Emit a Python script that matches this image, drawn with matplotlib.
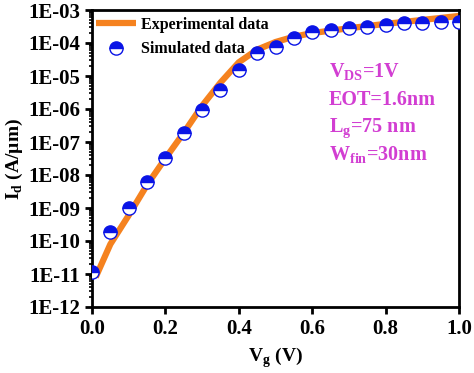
import numpy as np
import matplotlib.pyplot as plt
from matplotlib.ticker import LogLocator, NullFormatter, FixedLocator

plt.rcParams['font.family'] = ['Liberation Serif', 'DejaVu Serif']
plt.rcParams['font.weight'] = 'bold'
plt.rcParams['mathtext.fontset'] = 'custom'
plt.rcParams['mathtext.rm'] = 'Liberation Serif:bold'
plt.rcParams['mathtext.bf'] = 'Liberation Serif:bold'

# experimental curve
vg_exp = [0.01, 0.05, 0.10, 0.15, 0.20, 0.25, 0.30, 0.35, 0.40, 0.45, 0.50,
          0.55, 0.60, 0.70, 0.80, 0.90, 1.00]
id_exp = [8e-12, 8e-11, 6e-10, 5e-09, 3.2e-08, 1.9e-07, 1.25e-06, 6.3e-06,
          2.6e-05, 6.3e-05, 1.07e-04, 1.55e-04, 2.0e-04, 2.8e-04, 3.8e-04,
          5.0e-04, 6.6e-04]

# simulated points
vg_sim = [0.00, 0.05, 0.10, 0.15, 0.20, 0.25, 0.30, 0.35, 0.40, 0.45, 0.50,
          0.55, 0.60, 0.65, 0.70, 0.75, 0.80, 0.85, 0.90, 0.95, 1.00]
id_sim = [1.15e-11, 1.9e-10, 1.0e-09, 6e-09, 3.3e-08, 1.9e-07, 9.3e-07,
          3.8e-06, 1.5e-05, 5e-05, 7.6e-05, 1.4e-04, 2.2e-04, 2.5e-04,
          2.8e-04, 3.1e-04, 3.5e-04, 4.0e-04, 4.1e-04, 4.3e-04, 4.4e-04]

fig = plt.figure(figsize=(4.74, 3.73), dpi=100)
ax = fig.add_axes([92/474, 66/373, 367/474, 297/373])

ax.plot(vg_exp, id_exp, color='#f5821f', lw=4.5, solid_capstyle='butt',
        label='Experimental data', zorder=2)
ax.plot(vg_sim, id_sim, ls='none', marker='o', ms=9.5, fillstyle='top',
        markerfacecolor='#0a14e6', markerfacecoloralt='white',
        markeredgecolor='#0a14e6', markeredgewidth=1.0,
        label='Simulated data', zorder=3)

ax.set_yscale('log')
ax.set_xlim(0, 1.0)
ax.set_ylim(1e-12, 1e-3)
ax.xaxis.set_major_locator(FixedLocator([0, 0.2, 0.4, 0.6, 0.8, 1.0]))
ax.set_xticklabels(['0.0', '0.2', '0.4', '0.6', '0.8', '1.0'])
ax.yaxis.set_minor_locator(LogLocator(base=10, subs=np.arange(2, 10), numticks=20))
ax.yaxis.set_minor_formatter(NullFormatter())
ypos = [10.0**k for k in range(-12, -2)]
ax.set_yticks(ypos)
ax.set_yticklabels(['1E-%02d' % (-k) for k in range(-12, -2)])

ax.tick_params(axis='both', which='major', direction='out', length=5, width=2,
               labelsize=15)
ax.tick_params(axis='y', which='minor', direction='out', length=2.5, width=1.2)
for s in ax.spines.values():
    s.set_linewidth(2)

for lab in ax.get_xticklabels() + ax.get_yticklabels():
    lab.set_fontweight('bold')

ax.set_xlabel(r'V$_{\mathbf{g}}$ (V)', fontsize=14, fontweight='bold', labelpad=5)
ax.set_ylabel(r'I$_{\mathbf{d}}$ (A/µm)', fontsize=14, fontweight='bold', labelpad=2)

leg = ax.legend(loc='upper left', frameon=False, fontsize=11.5, handlelength=2.5,
                borderaxespad=0.1, handletextpad=0.3, labelspacing=0.55,
                bbox_to_anchor=(-0.01, 1.005))

mag = '#d23ed2'
tx = 0.645
for i, s in enumerate([r'V$_{\mathbf{DS}}$=1V', 'EOT=1.6nm', r'L$_{\mathbf{g}}$=75 nm',
                       r'W$_{\mathbf{fin}}$=30nm']):
    ax.text(tx, 0.79 - i * 0.093, s, transform=ax.transAxes, color=mag,
            fontsize=14.5, fontweight='bold', va='center', ha='left')

fig.savefig('out.png', dpi=100)
